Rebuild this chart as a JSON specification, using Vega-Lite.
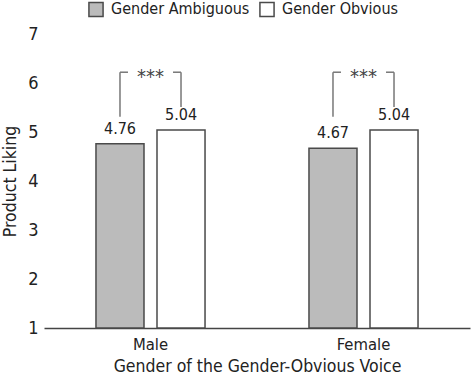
{
  "$schema": "https://vega.github.io/schema/vega-lite/v6.json",
  "width": 426,
  "height": 294,
  "autosize": {"type": "none"},
  "padding": {"left": 44, "top": 34, "right": 4, "bottom": 51},
  "background": "white",
  "config": {"font": "DejaVu Sans Condensed, Roboto Condensed, Liberation Sans Narrow, Roboto, sans-serif", "view": {"stroke": null}},
  "datasets": {
    "bars": [
      {"gender": "Male", "voice": "Gender Ambiguous", "liking": 4.76, "label": "4.76"},
      {"gender": "Male", "voice": "Gender Obvious", "liking": 5.04, "label": "5.04"},
      {"gender": "Female", "voice": "Gender Ambiguous", "liking": 4.67, "label": "4.67"},
      {"gender": "Female", "voice": "Gender Obvious", "liking": 5.04, "label": "5.04"}
    ],
    "brackets": [
      {"gender": "Male", "voice": "Gender Ambiguous", "side": "left", "low": 5.31, "high": 6.22},
      {"gender": "Male", "voice": "Gender Obvious", "side": "right", "low": 5.51, "high": 6.22},
      {"gender": "Female", "voice": "Gender Ambiguous", "side": "left", "low": 5.31, "high": 6.22},
      {"gender": "Female", "voice": "Gender Obvious", "side": "right", "low": 5.51, "high": 6.22}
    ],
    "stars": [
      {"gender": "Male", "y": 6.22, "label": "***"},
      {"gender": "Female", "y": 6.22, "label": "***"}
    ]
  },
  "encoding": {
    "x": {
      "field": "gender",
      "type": "nominal",
      "sort": ["Male", "Female"],
      "scale": {"paddingInner": 0.488, "paddingOuter": 0.244},
      "axis": {
        "labelAngle": 0,
        "domain": true,
        "domainColor": "#444444",
        "domainWidth": 1.5,
        "ticks": false,
        "labelFontSize": 16.5,
        "labelColor": "#222222",
        "labelPadding": 8,
        "title": "Gender of the Gender-Obvious Voice",
        "titleFontSize": 17.5,
        "titleFontWeight": "normal",
        "titleColor": "#222222",
        "titlePadding": 5
      }
    }
  },
  "layer": [
    {
      "data": {"name": "bars"},
      "mark": {"type": "bar", "stroke": "#4a4a4a", "strokeWidth": 1.5},
      "encoding": {
        "xOffset": {"field": "voice", "type": "nominal", "scale": {"paddingInner": 0.213, "paddingOuter": 0}},
        "y": {
          "field": "liking",
          "type": "quantitative",
          "scale": {"domain": [1, 7], "nice": false, "zero": false},
          "axis": {
            "values": [1, 2, 3, 4, 5, 6, 7],
            "domain": false,
            "ticks": false,
            "grid": false,
            "labelFontSize": 18,
            "labelColor": "#222222",
            "labelPadding": 6,
            "title": "Product Liking",
            "titleFontSize": 17.5,
            "titleFontWeight": "normal",
            "titleColor": "#222222",
            "titlePadding": 8
          }
        },
        "y2": {"datum": 1},
        "fill": {
          "field": "voice",
          "type": "nominal",
          "scale": {"domain": ["Gender Ambiguous", "Gender Obvious"], "range": ["#bbbbbb", "#ffffff"]},
          "legend": {
            "orient": "none",
            "legendX": 44,
            "legendY": -33,
            "direction": "horizontal",
            "title": null,
            "symbolType": "square",
            "symbolSize": 200,
            "symbolStrokeColor": "#4a4a4a",
            "symbolStrokeWidth": 1.5,
            "labelFontSize": 16,
            "labelLimit": 400,
            "labelColor": "#222222",
            "labelOffset": 7,
            "columnPadding": 6
          }
        }
      }
    },
    {
      "data": {"name": "bars"},
      "mark": {"type": "text", "baseline": "bottom", "dy": -7, "fontSize": 16, "color": "#222222"},
      "encoding": {
        "xOffset": {"field": "voice", "type": "nominal", "scale": {"paddingInner": 0.213, "paddingOuter": 0}},
        "y": {"field": "liking", "type": "quantitative"},
        "text": {"field": "label"}
      }
    },
    {
      "data": {"name": "brackets"},
      "mark": {"type": "rule", "color": "#777777", "strokeWidth": 1.5},
      "encoding": {
        "xOffset": {"field": "voice", "type": "nominal", "scale": {"paddingInner": 0.213, "paddingOuter": 0}},
        "y": {"field": "low", "type": "quantitative"},
        "y2": {"field": "high"}
      }
    },
    {
      "data": {"name": "brackets"},
      "transform": [{"filter": "datum.side == 'left'"}],
      "mark": {"type": "point", "shape": "M0,0L1,0", "size": 256, "filled": false, "stroke": "#777777", "strokeWidth": 1.5, "opacity": 1},
      "encoding": {
        "xOffset": {"field": "voice", "type": "nominal", "scale": {"paddingInner": 0.213, "paddingOuter": 0}},
        "y": {"field": "high", "type": "quantitative"}
      }
    },
    {
      "data": {"name": "brackets"},
      "transform": [{"filter": "datum.side == 'right'"}],
      "mark": {"type": "point", "shape": "M0,0L-1,0", "size": 256, "filled": false, "stroke": "#777777", "strokeWidth": 1.5, "opacity": 1},
      "encoding": {
        "xOffset": {"field": "voice", "type": "nominal", "scale": {"paddingInner": 0.213, "paddingOuter": 0}},
        "y": {"field": "high", "type": "quantitative"}
      }
    },
    {
      "data": {"name": "stars"},
      "mark": {"type": "text", "baseline": "middle", "dy": 5, "fontSize": 20, "color": "#444444"},
      "encoding": {
        "y": {"field": "y", "type": "quantitative"},
        "text": {"field": "label"}
      }
    }
  ]
}
